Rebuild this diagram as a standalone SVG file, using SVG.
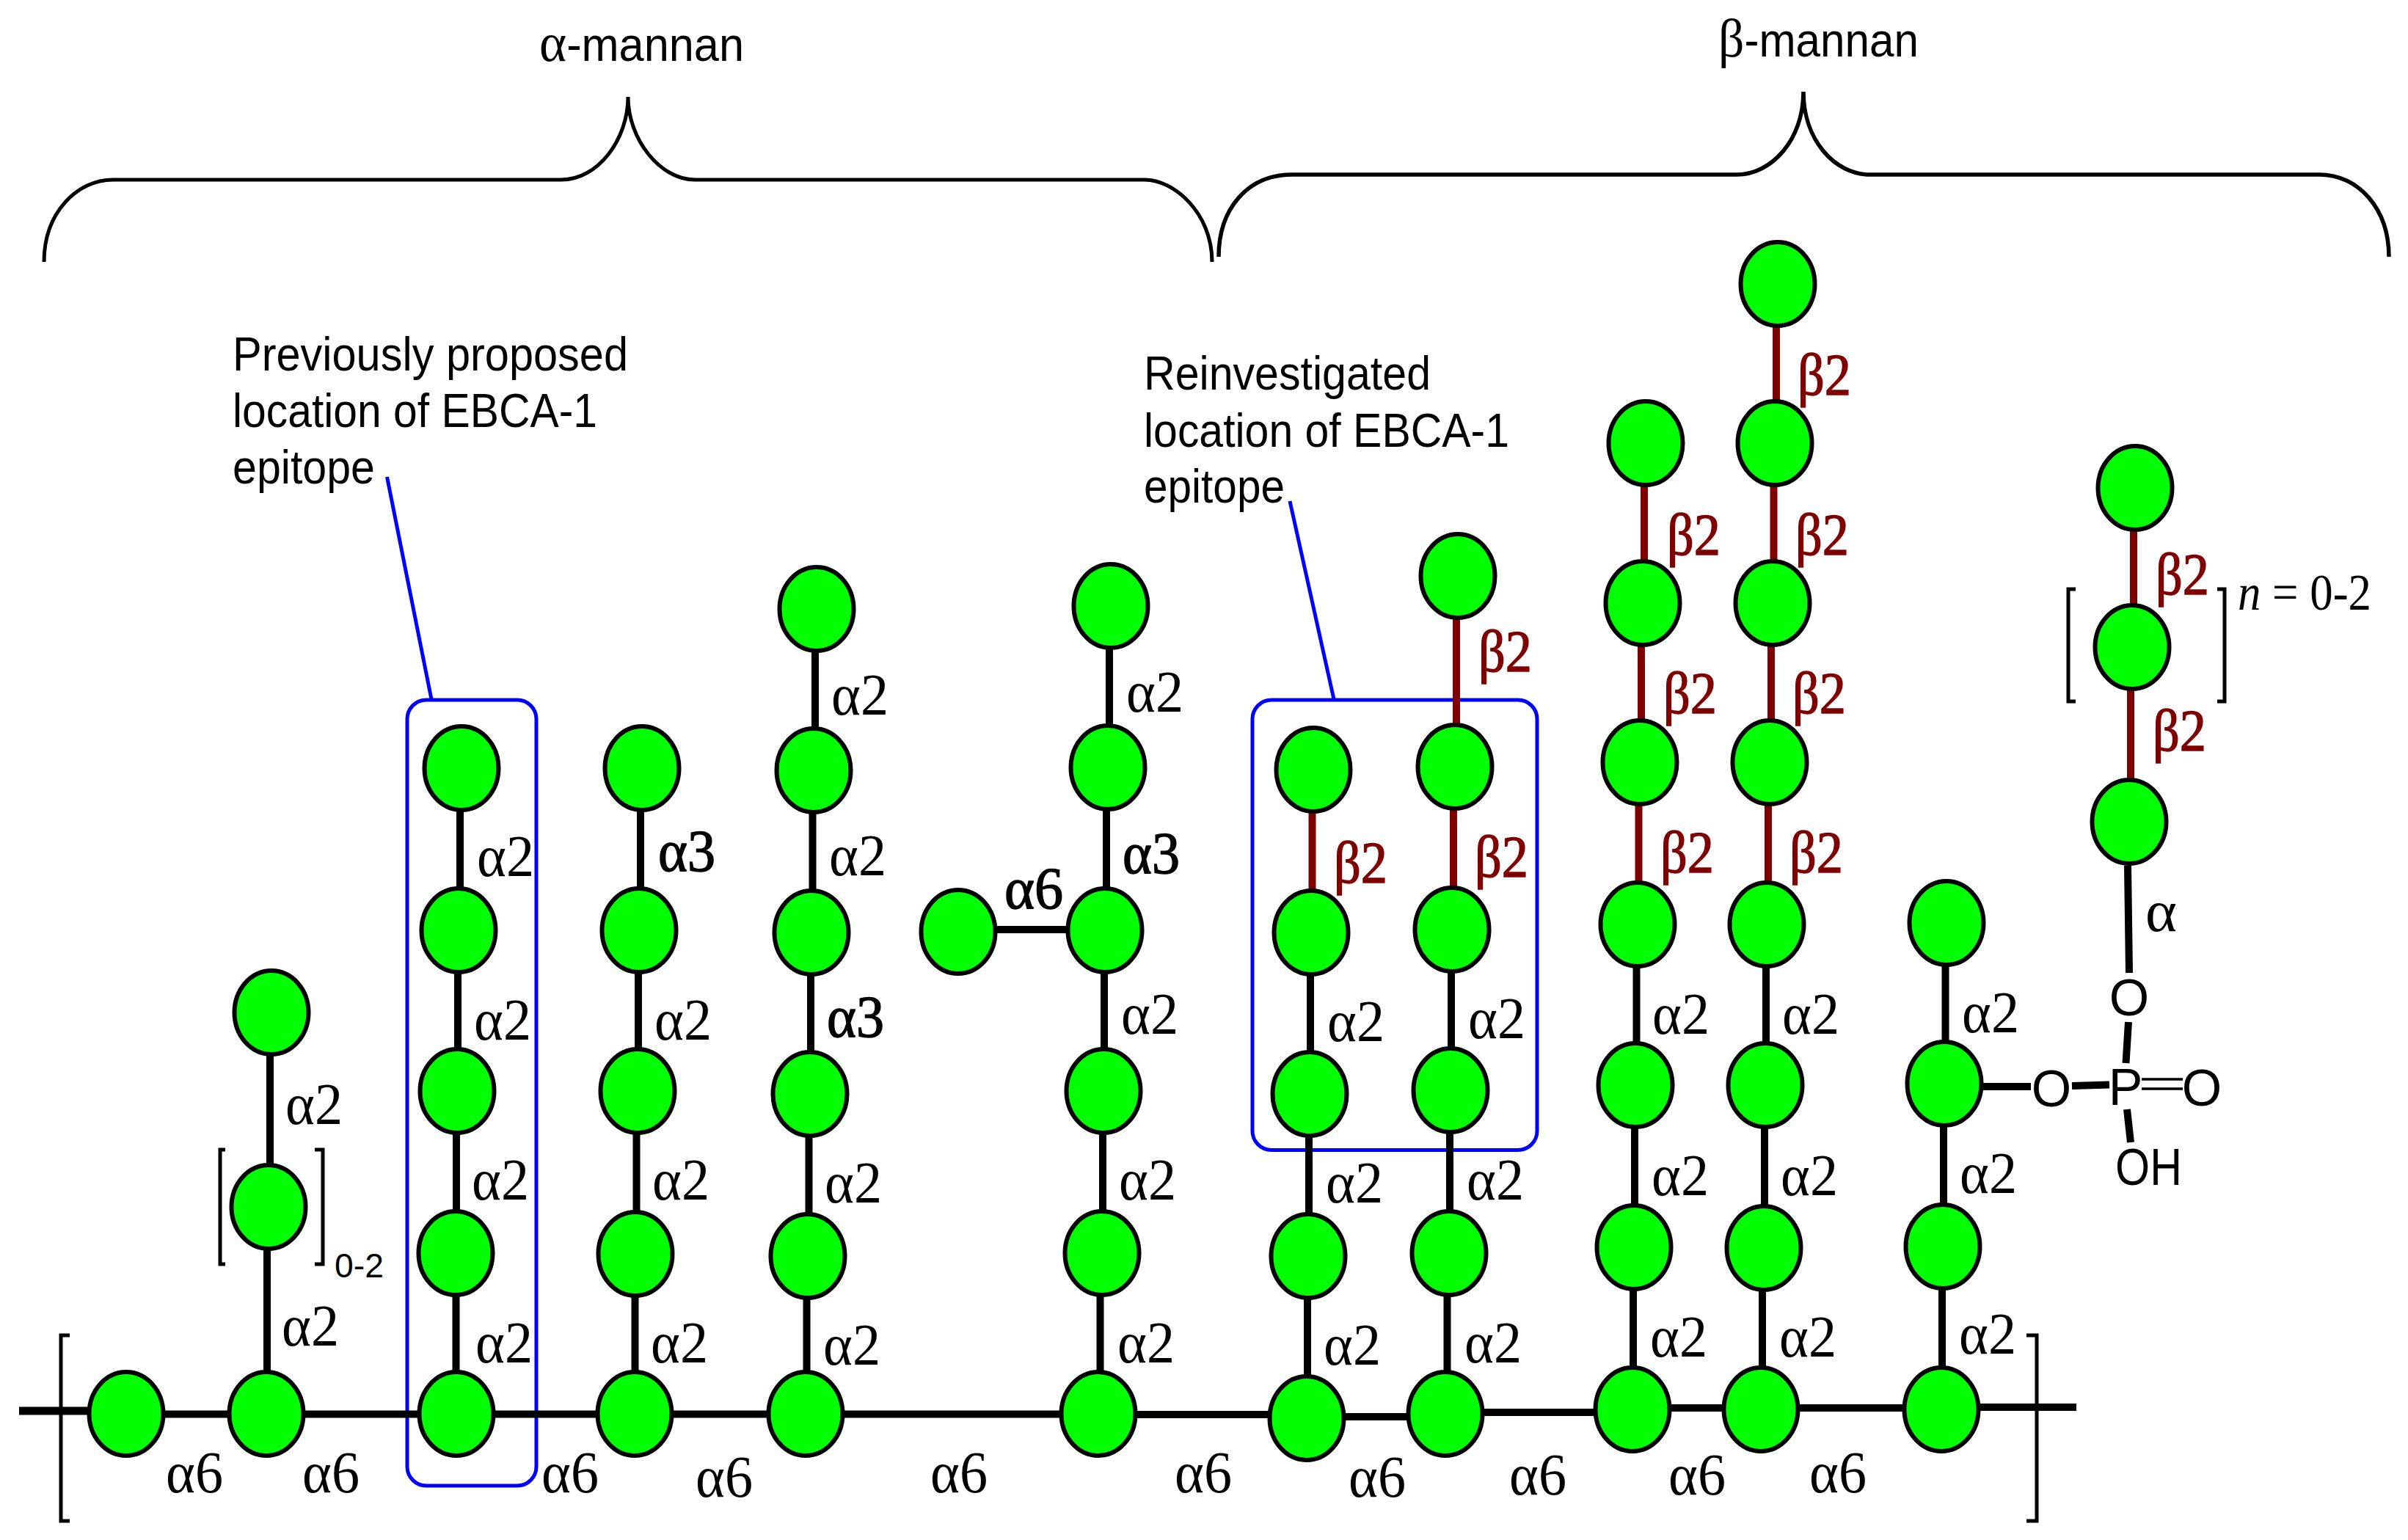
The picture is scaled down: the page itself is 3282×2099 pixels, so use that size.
<svg xmlns="http://www.w3.org/2000/svg" width="3282" height="2099" viewBox="0 0 3282 2099">
<style>
.bg{fill:#fff}
.n{fill:#00ff00;stroke:#000;stroke-width:6}
.k{stroke:#000;stroke-width:10;fill:none}
.m{stroke:#7f0000;stroke-width:10;fill:none}
.thin{stroke:#000;stroke-width:5;fill:none}
.blue{stroke:#0000ff;stroke-width:5;fill:none}
.sans{font-family:"Liberation Sans",Arial,sans-serif;fill:#000}
.t{font-size:64px}
.chem{font-size:70px}
.l{font-family:"Liberation Serif","Times New Roman",serif;font-size:80px;fill:#000}
.bd{stroke:#000;stroke-width:1.4}
.b{fill:#7f0000;stroke:#7f0000;stroke-width:1.4}
.g{font-family:"Liberation Serif","Times New Roman",serif;font-size:74px}
</style>
<rect class="bg" width="3282" height="2099"/>
<g id="braces">
<path class="thin" d="M60 357C60 290 105 245 154 245H765C815 245 856 190 856 132C856 190 900 245 947 245H1560C1600 245 1652 290 1652 357"/>
<path class="thin" style="stroke-width:5.500" d="M1661 350C1661 285 1700 238 1761 238H2367C2415 238 2458 190 2458 125C2458 190 2500 238 2549 238H3161C3215 238 3256 285 3256 350"/>
</g>
<g id="brackets">
<path class="thin" d="M95 1820H83V2073H95"/>
<path class="thin" d="M2762 1820H2776V2073H2762"/>
<path class="thin" d="M307 1567H300V1723H307"/>
<path class="thin" d="M429 1567H440V1723H429"/>
<path class="thin" d="M2829 803H2819V956H2829"/>
<path class="thin" d="M3022 803H3032V956H3022"/>
</g>
<g id="epitope-boxes">
<rect class="blue" x="555" y="954" width="176" height="1071" rx="26"/>
<rect class="blue" x="1707" y="954" width="388" height="613.500" rx="26"/>
<path class="blue" d="M527.500 650L588 953"/>
<path class="blue" d="M1758 683L1818 953"/>
</g>
<g id="connectors">
<path class="k" style="stroke-width:11" d="M26 1923H172"/>
<path class="k" d="M172 1927.500H1497V1928H1781"/>
<path class="k" d="M1781 1931H1970"/>
<path class="k" d="M1970 1925H2225"/>
<path class="k" d="M2225 1919H2646"/>
<path class="k" d="M2646 1918H2830"/>
<path class="k" d="M364 1927V1645M368 1645V1380"/>
<path class="k" d="M621.500 1927V1708M622 1708V1487M624 1487V1268M627 1268V1047"/>
<path class="k" d="M865.500 1927V1709M867.500 1709V1487M870 1487V1268M873 1268V1047"/>
<path class="k" d="M1099.500 1927V1712M1102.500 1712V1491M1105 1491V1271M1107.500 1271V1050M1111 1050V830"/>
<path class="k" d="M1499.500 1927V1708M1503 1708V1487M1505 1487V1268M1508 1268V1046M1512 1046V826"/>
<path class="k" d="M1306 1267H1506"/>
<path class="k" d="M1782 1933V1712M1784 1712V1491M1786 1491V1271"/>
<path class="m" d="M1788.500 1271V1049"/>
<path class="k" d="M1972.500 1927V1708M1976 1708V1486M1978 1486V1267"/>
<path class="m" d="M1981 1267V1045M1985 1045V785"/>
<path class="k" d="M2226 1921V1700M2228 1700V1479M2230.500 1479V1260"/>
<path class="m" d="M2233.500 1260V1039M2237 1039V822M2241 822V604"/>
<path class="k" d="M2402 1921V1701M2405 1701V1479M2407 1479V1260"/>
<path class="m" d="M2410 1260V1039M2414 1039V822M2417.500 822V604M2421 604V387"/>
<path class="k" d="M2647 1921V1699M2649 1699V1477M2651.500 1477V1258"/>
<path class="m" d="M2904 1120V882M2908 882V665"/>
<path class="k" d="M2900 1180L2902 1326"/>
<path class="k" d="M2901 1393L2897.500 1449"/>
<path class="k" d="M2702 1481H2768"/>
<path class="k" d="M2824 1480L2875 1478.500"/>
<path class="k" d="M2899 1512L2904 1557"/>
<path class="k" style="stroke-width:3.500" d="M2919 1471H2975M2919 1484H2975"/>
</g>
<g id="nodes">
<g id="b0"><ellipse class="n" cx="172" cy="1927" rx="50.500" ry="57"/></g>
<g id="c1-1"><ellipse class="n" cx="363" cy="1927" rx="50.500" ry="57"/></g>
<g id="c1-2"><ellipse class="n" cx="366" cy="1645" rx="50.500" ry="57"/></g>
<g id="c1-3"><ellipse class="n" cx="370" cy="1380" rx="50.500" ry="57"/></g>
<g id="c2-1"><ellipse class="n" cx="622" cy="1927" rx="50.500" ry="57"/></g>
<g id="c2-2"><ellipse class="n" cx="621" cy="1708" rx="50.500" ry="57"/></g>
<g id="c2-3"><ellipse class="n" cx="623" cy="1487" rx="50.500" ry="57"/></g>
<g id="c2-4"><ellipse class="n" cx="625" cy="1268" rx="50.500" ry="57"/></g>
<g id="c2-5"><ellipse class="n" cx="629" cy="1047" rx="50.500" ry="57"/></g>
<g id="c3-1"><ellipse class="n" cx="865" cy="1927" rx="50.500" ry="57"/></g>
<g id="c3-2"><ellipse class="n" cx="866" cy="1709" rx="50.500" ry="57"/></g>
<g id="c3-3"><ellipse class="n" cx="869" cy="1487" rx="50.500" ry="57"/></g>
<g id="c3-4"><ellipse class="n" cx="871" cy="1268" rx="50.500" ry="57"/></g>
<g id="c3-5"><ellipse class="n" cx="875" cy="1047" rx="50.500" ry="57"/></g>
<g id="c4-1"><ellipse class="n" cx="1098" cy="1927" rx="50.500" ry="57"/></g>
<g id="c4-2"><ellipse class="n" cx="1101" cy="1712" rx="50.500" ry="57"/></g>
<g id="c4-3"><ellipse class="n" cx="1104" cy="1491" rx="50.500" ry="57"/></g>
<g id="c4-4"><ellipse class="n" cx="1106" cy="1271" rx="50.500" ry="57"/></g>
<g id="c4-5"><ellipse class="n" cx="1109" cy="1050" rx="50.500" ry="57"/></g>
<g id="c4-6"><ellipse class="n" cx="1113" cy="830" rx="50.500" ry="57"/></g>
<g id="c5-1"><ellipse class="n" cx="1497" cy="1927" rx="50.500" ry="57"/></g>
<g id="c5-2"><ellipse class="n" cx="1502" cy="1708" rx="50.500" ry="57"/></g>
<g id="c5-3"><ellipse class="n" cx="1504" cy="1487" rx="50.500" ry="57"/></g>
<g id="c5-4"><ellipse class="n" cx="1506" cy="1268" rx="50.500" ry="57"/></g>
<g id="c5-5"><ellipse class="n" cx="1510" cy="1046" rx="50.500" ry="57"/></g>
<g id="c5-6"><ellipse class="n" cx="1514" cy="826" rx="50.500" ry="57"/></g>
<g id="c5-s"><ellipse class="n" cx="1306" cy="1270" rx="50.500" ry="57"/></g>
<g id="c6-1"><ellipse class="n" cx="1781" cy="1933" rx="50.500" ry="57"/></g>
<g id="c6-2"><ellipse class="n" cx="1783" cy="1712" rx="50.500" ry="57"/></g>
<g id="c6-3"><ellipse class="n" cx="1785" cy="1491" rx="50.500" ry="57"/></g>
<g id="c6-4"><ellipse class="n" cx="1787" cy="1271" rx="50.500" ry="57"/></g>
<g id="c6-5"><ellipse class="n" cx="1790" cy="1049" rx="50.500" ry="57"/></g>
<g id="c7-1"><ellipse class="n" cx="1970" cy="1927" rx="50.500" ry="57"/></g>
<g id="c7-2"><ellipse class="n" cx="1975" cy="1708" rx="50.500" ry="57"/></g>
<g id="c7-3"><ellipse class="n" cx="1977" cy="1486" rx="50.500" ry="57"/></g>
<g id="c7-4"><ellipse class="n" cx="1979" cy="1267" rx="50.500" ry="57"/></g>
<g id="c7-5"><ellipse class="n" cx="1983" cy="1045" rx="50.500" ry="57"/></g>
<g id="c7-6"><ellipse class="n" cx="1987" cy="785" rx="50.500" ry="57"/></g>
<g id="c8-1"><ellipse class="n" cx="2225" cy="1921" rx="50.500" ry="57"/></g>
<g id="c8-2"><ellipse class="n" cx="2227" cy="1700" rx="50.500" ry="57"/></g>
<g id="c8-3"><ellipse class="n" cx="2229" cy="1479" rx="50.500" ry="57"/></g>
<g id="c8-4"><ellipse class="n" cx="2232" cy="1260" rx="50.500" ry="57"/></g>
<g id="c8-5"><ellipse class="n" cx="2235" cy="1039" rx="50.500" ry="57"/></g>
<g id="c8-6"><ellipse class="n" cx="2239" cy="822" rx="50.500" ry="57"/></g>
<g id="c8-7"><ellipse class="n" cx="2243" cy="604" rx="50.500" ry="57"/></g>
<g id="c9-1"><ellipse class="n" cx="2400" cy="1921" rx="50.500" ry="57"/></g>
<g id="c9-2"><ellipse class="n" cx="2404" cy="1701" rx="50.500" ry="57"/></g>
<g id="c9-3"><ellipse class="n" cx="2406" cy="1479" rx="50.500" ry="57"/></g>
<g id="c9-4"><ellipse class="n" cx="2408" cy="1260" rx="50.500" ry="57"/></g>
<g id="c9-5"><ellipse class="n" cx="2412" cy="1039" rx="50.500" ry="57"/></g>
<g id="c9-6"><ellipse class="n" cx="2416" cy="822" rx="50.500" ry="57"/></g>
<g id="c9-7"><ellipse class="n" cx="2419" cy="604" rx="50.500" ry="57"/></g>
<g id="c9-8"><ellipse class="n" cx="2423" cy="387" rx="50.500" ry="57"/></g>
<g id="c10-1"><ellipse class="n" cx="2646" cy="1921" rx="50.500" ry="57"/></g>
<g id="c10-2"><ellipse class="n" cx="2648" cy="1699" rx="50.500" ry="57"/></g>
<g id="c10-3"><ellipse class="n" cx="2650" cy="1477" rx="50.500" ry="57"/></g>
<g id="c10-4"><ellipse class="n" cx="2653" cy="1258" rx="50.500" ry="57"/></g>
<g id="p-1"><ellipse class="n" cx="2902" cy="1120" rx="50.500" ry="57"/></g>
<g id="p-2"><ellipse class="n" cx="2906" cy="882" rx="50.500" ry="57"/></g>
<g id="p-3"><ellipse class="n" cx="2910" cy="665" rx="50.500" ry="57"/></g>
</g>
<g id="titles">
<text class="sans t" x="735" y="83" textLength="279" lengthAdjust="spacingAndGlyphs"><tspan class="g">α</tspan>-mannan</text>
<text class="sans t" x="2342" y="77" textLength="273" lengthAdjust="spacingAndGlyphs"><tspan class="g">β</tspan>-mannan</text>
<text class="sans t" x="317" y="504.500" textLength="539" lengthAdjust="spacingAndGlyphs">Previously proposed</text>
<text class="sans t" x="317" y="582" textLength="497" lengthAdjust="spacingAndGlyphs">location of EBCA-1</text>
<text class="sans t" x="317" y="658.500" textLength="194" lengthAdjust="spacingAndGlyphs">epitope</text>
<text class="sans t" x="1559" y="531" textLength="391" lengthAdjust="spacingAndGlyphs">Reinvestigated</text>
<text class="sans t" x="1559" y="609" textLength="498" lengthAdjust="spacingAndGlyphs">location of EBCA-1</text>
<text class="sans t" x="1559" y="685" textLength="192" lengthAdjust="spacingAndGlyphs">epitope</text>
<text class="sans" style="font-size:46px" x="456" y="1741" textLength="67" lengthAdjust="spacingAndGlyphs">0-2</text>
<text class="l" style="font-size:70px" x="3050" y="830.500" textLength="182" lengthAdjust="spacingAndGlyphs"><tspan font-style="italic">n</tspan> = 0-2</text>
</g>
<g id="chem">
<text class="sans chem" x="2902" y="1384" text-anchor="middle">O</text>
<text class="sans chem" x="2796" y="1508" text-anchor="middle">O</text>
<text class="sans chem" x="2897" y="1506" text-anchor="middle">P</text>
<text class="sans chem" x="3001" y="1507" text-anchor="middle">O</text>
<text class="sans chem" x="2883" y="1615" textLength="91" lengthAdjust="spacingAndGlyphs">OH</text>
<text class="l" x="2924" y="1269" textLength="43" lengthAdjust="spacingAndGlyphs">α</text>
</g>
<g id="labels">
<text class="l" x="389" y="1532" textLength="78" lengthAdjust="spacingAndGlyphs">α2</text>
<text class="l" x="384" y="1834" textLength="78" lengthAdjust="spacingAndGlyphs">α2</text>
<text class="l" x="650" y="1194" textLength="78" lengthAdjust="spacingAndGlyphs">α2</text>
<text class="l" x="646" y="1417" textLength="78" lengthAdjust="spacingAndGlyphs">α2</text>
<text class="l" x="643" y="1635" textLength="78" lengthAdjust="spacingAndGlyphs">α2</text>
<text class="l" x="648" y="1857" textLength="78" lengthAdjust="spacingAndGlyphs">α2</text>
<text class="l bd" x="897" y="1187" textLength="78" lengthAdjust="spacingAndGlyphs">α3</text>
<text class="l" x="892" y="1417" textLength="78" lengthAdjust="spacingAndGlyphs">α2</text>
<text class="l" x="889" y="1635" textLength="78" lengthAdjust="spacingAndGlyphs">α2</text>
<text class="l" x="887" y="1857" textLength="78" lengthAdjust="spacingAndGlyphs">α2</text>
<text class="l" x="1133" y="974" textLength="78" lengthAdjust="spacingAndGlyphs">α2</text>
<text class="l" x="1130" y="1193" textLength="78" lengthAdjust="spacingAndGlyphs">α2</text>
<text class="l bd" x="1127" y="1413" textLength="78" lengthAdjust="spacingAndGlyphs">α3</text>
<text class="l" x="1124" y="1639" textLength="78" lengthAdjust="spacingAndGlyphs">α2</text>
<text class="l" x="1122" y="1860" textLength="78" lengthAdjust="spacingAndGlyphs">α2</text>
<text class="l" x="1535" y="970" textLength="78" lengthAdjust="spacingAndGlyphs">α2</text>
<text class="l bd" x="1530" y="1190" textLength="78" lengthAdjust="spacingAndGlyphs">α3</text>
<text class="l bd" x="1369" y="1238" textLength="80" lengthAdjust="spacingAndGlyphs">α6</text>
<text class="l" x="1528" y="1409" textLength="78" lengthAdjust="spacingAndGlyphs">α2</text>
<text class="l" x="1525" y="1635" textLength="78" lengthAdjust="spacingAndGlyphs">α2</text>
<text class="l" x="1523" y="1857" textLength="78" lengthAdjust="spacingAndGlyphs">α2</text>
<text class="l b" x="1818" y="1203" textLength="73" lengthAdjust="spacingAndGlyphs">β2</text>
<text class="l" x="1809" y="1419" textLength="78" lengthAdjust="spacingAndGlyphs">α2</text>
<text class="l" x="1807" y="1639" textLength="78" lengthAdjust="spacingAndGlyphs">α2</text>
<text class="l" x="1804" y="1860" textLength="78" lengthAdjust="spacingAndGlyphs">α2</text>
<text class="l b" x="2015" y="915" textLength="73" lengthAdjust="spacingAndGlyphs">β2</text>
<text class="l b" x="2010" y="1195" textLength="73" lengthAdjust="spacingAndGlyphs">β2</text>
<text class="l" x="2001" y="1415" textLength="78" lengthAdjust="spacingAndGlyphs">α2</text>
<text class="l" x="1999" y="1635" textLength="78" lengthAdjust="spacingAndGlyphs">α2</text>
<text class="l" x="1996" y="1857" textLength="78" lengthAdjust="spacingAndGlyphs">α2</text>
<text class="l b" x="2272" y="756" textLength="73" lengthAdjust="spacingAndGlyphs">β2</text>
<text class="l b" x="2267" y="972" textLength="73" lengthAdjust="spacingAndGlyphs">β2</text>
<text class="l b" x="2263" y="1189" textLength="73" lengthAdjust="spacingAndGlyphs">β2</text>
<text class="l" x="2252" y="1409" textLength="78" lengthAdjust="spacingAndGlyphs">α2</text>
<text class="l" x="2251" y="1629" textLength="78" lengthAdjust="spacingAndGlyphs">α2</text>
<text class="l" x="2249" y="1849" textLength="78" lengthAdjust="spacingAndGlyphs">α2</text>
<text class="l b" x="2450" y="538" textLength="73" lengthAdjust="spacingAndGlyphs">β2</text>
<text class="l b" x="2447" y="756" textLength="73" lengthAdjust="spacingAndGlyphs">β2</text>
<text class="l b" x="2443" y="972" textLength="73" lengthAdjust="spacingAndGlyphs">β2</text>
<text class="l b" x="2439" y="1189" textLength="73" lengthAdjust="spacingAndGlyphs">β2</text>
<text class="l" x="2429" y="1409" textLength="78" lengthAdjust="spacingAndGlyphs">α2</text>
<text class="l" x="2427" y="1629" textLength="78" lengthAdjust="spacingAndGlyphs">α2</text>
<text class="l" x="2425" y="1849" textLength="78" lengthAdjust="spacingAndGlyphs">α2</text>
<text class="l" x="2674" y="1407" textLength="78" lengthAdjust="spacingAndGlyphs">α2</text>
<text class="l" x="2671" y="1626" textLength="78" lengthAdjust="spacingAndGlyphs">α2</text>
<text class="l" x="2670" y="1845" textLength="78" lengthAdjust="spacingAndGlyphs">α2</text>
<text class="l b" x="2938" y="810" textLength="73" lengthAdjust="spacingAndGlyphs">β2</text>
<text class="l b" x="2934" y="1023" textLength="73" lengthAdjust="spacingAndGlyphs">β2</text>
<text class="l" x="226" y="2034" textLength="78" lengthAdjust="spacingAndGlyphs">α6</text>
<text class="l" x="412" y="2034" textLength="78" lengthAdjust="spacingAndGlyphs">α6</text>
<text class="l" x="738" y="2034" textLength="78" lengthAdjust="spacingAndGlyphs">α6</text>
<text class="l" x="948" y="2040" textLength="78" lengthAdjust="spacingAndGlyphs">α6</text>
<text class="l" x="1268" y="2034" textLength="78" lengthAdjust="spacingAndGlyphs">α6</text>
<text class="l" x="1601" y="2034" textLength="78" lengthAdjust="spacingAndGlyphs">α6</text>
<text class="l" x="1838" y="2040" textLength="78" lengthAdjust="spacingAndGlyphs">α6</text>
<text class="l" x="2057" y="2037" textLength="78" lengthAdjust="spacingAndGlyphs">α6</text>
<text class="l" x="2274" y="2037" textLength="78" lengthAdjust="spacingAndGlyphs">α6</text>
<text class="l" x="2466" y="2034" textLength="78" lengthAdjust="spacingAndGlyphs">α6</text>
</g>
</svg>
